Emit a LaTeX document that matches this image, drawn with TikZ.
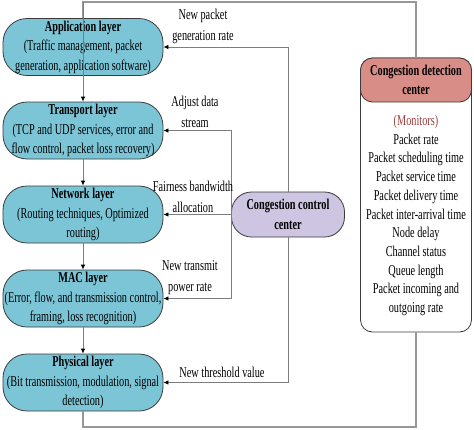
\documentclass[tikz,border=0pt]{standalone}
\usepackage{fontspec}
\setmainfont{Liberation Serif}[FakeStretch=0.685]
\usetikzlibrary{arrows.meta}
\definecolor{layerfill}{RGB}{124,197,214}
\definecolor{ctrlfill}{RGB}{205,197,225}
\definecolor{detfill}{RGB}{216,141,135}
\definecolor{monred}{RGB}{158,62,62}
\definecolor{linegray}{RGB}{125,125,125}
\definecolor{bordergray}{RGB}{60,60,60}
\tikzset{
  txt/.style={font=\fontsize{15}{19.5}\selectfont, align=center, inner sep=0pt},
  layerbox/.style={draw=bordergray, line width=0.8pt, fill=layerfill, rounded corners=24pt,
    minimum width=160pt, minimum height=57pt, inner sep=0pt, txt},
  ctrlbox/.style={draw=bordergray, line width=0.8pt, fill=ctrlfill, rounded corners=20pt,
    minimum width=113pt, minimum height=45pt, inner sep=0pt, txt},
  conn/.style={draw=linegray, line width=0.8pt},
  loopline/.style={draw=linegray!80, line width=1.3pt},
  arr/.style={conn, -{Latex[length=5pt,width=4.5pt,color=black]}},
  lbl/.style={txt, font=\fontsize{15}{21}\selectfont}
}
\begin{document}
\begin{tikzpicture}[x=1pt,y=-1pt]
\useasboundingbox (0,0) rectangle (474,429);
\fill[white] (0,0) rectangle (474,429);

% coordinates for the feedback loop
\coordinate (tl) at (83,2);
\coordinate (bl) at (83,427);

% detection center
\node[draw=bordergray, line width=0.8pt, fill=white, rounded corners=12pt,
      minimum width=111pt, minimum height=274pt, inner sep=0pt] (detBody) at (416,195) {};
\node[draw=bordergray, line width=0.8pt, fill=detfill, rounded corners=12pt,
      minimum width=111pt, minimum height=44pt, inner sep=0pt, txt] (detHead) at (416,80)
      {\bfseries Congestion detection\\\bfseries center};
\node[txt, font=\fontsize{15}{18.7}\selectfont] (detList) at (416,215.5)
      {\textcolor{monred}{(Monitors)}\\Packet rate\\Packet scheduling time\\Packet service time\\Packet delivery time\\Packet inter-arrival time\\Node delay\\Channel status\\Queue length\\Packet incoming and\\outgoing rate};

% layers
\node[layerbox] (app) at (83,47) {\bfseries Application layer\\(Traffic management, packet\\generation, application software)};
\node[layerbox] (trans) at (83,130.5) {\bfseries Transport layer\\(TCP and UDP services, error and\\flow control, packet loss recovery)};
\node[layerbox] (net) at (83,214.5) {\bfseries Network layer\\(Routing techniques, Optimized\\routing)};
\node[layerbox] (mac) at (83,298.5) {\bfseries MAC layer\\(Error, flow, and transmission control,\\framing, loss recognition)};
\node[layerbox] (phy) at (83,382.5) {\bfseries Physical layer\\(Bit transmission, modulation, signal\\detection)};

% control center
\node[ctrlbox] (ctrl) at (288,214.5) {\bfseries Congestion control\\\bfseries center};

% loop lines
\draw[loopline] (app.north) -- (tl) -| (detHead.north);
\draw[conn] (tl) -- (app.south);
\draw[loopline] (detBody.south) |- (bl) -- (phy.south);

% layer-to-layer arrows
\draw[arr] (app.south) -- (trans.north);
\draw[arr] (trans.south) -- (net.north);
\draw[arr] (net.south) -- (mac.north);
\draw[arr] (mac.south) -- (phy.north);

% control arrows
\draw[arr] (ctrl.north) |- (app.east);
\draw[arr] (ctrl.west) |- (trans.east);
\draw[arr] (ctrl.west) -- (net.east);
\draw[arr] (ctrl.west) |- (mac.east);
\draw[arr] (ctrl.south) |- (phy.east);

% labels
\node[lbl] (l1) at (203,26.5) {New packet\\generation rate};
\node[lbl] (l2) at (195,111.5) {Adjust data\\stream};
\node[lbl] (l3) at (193,197) {Fairness bandwidth\\allocation};
\node[lbl] (l4) at (190,278) {New transmit\\power rate};
\node[lbl] (l5) at (222,372) {New threshold value};
\end{tikzpicture}
\end{document}
